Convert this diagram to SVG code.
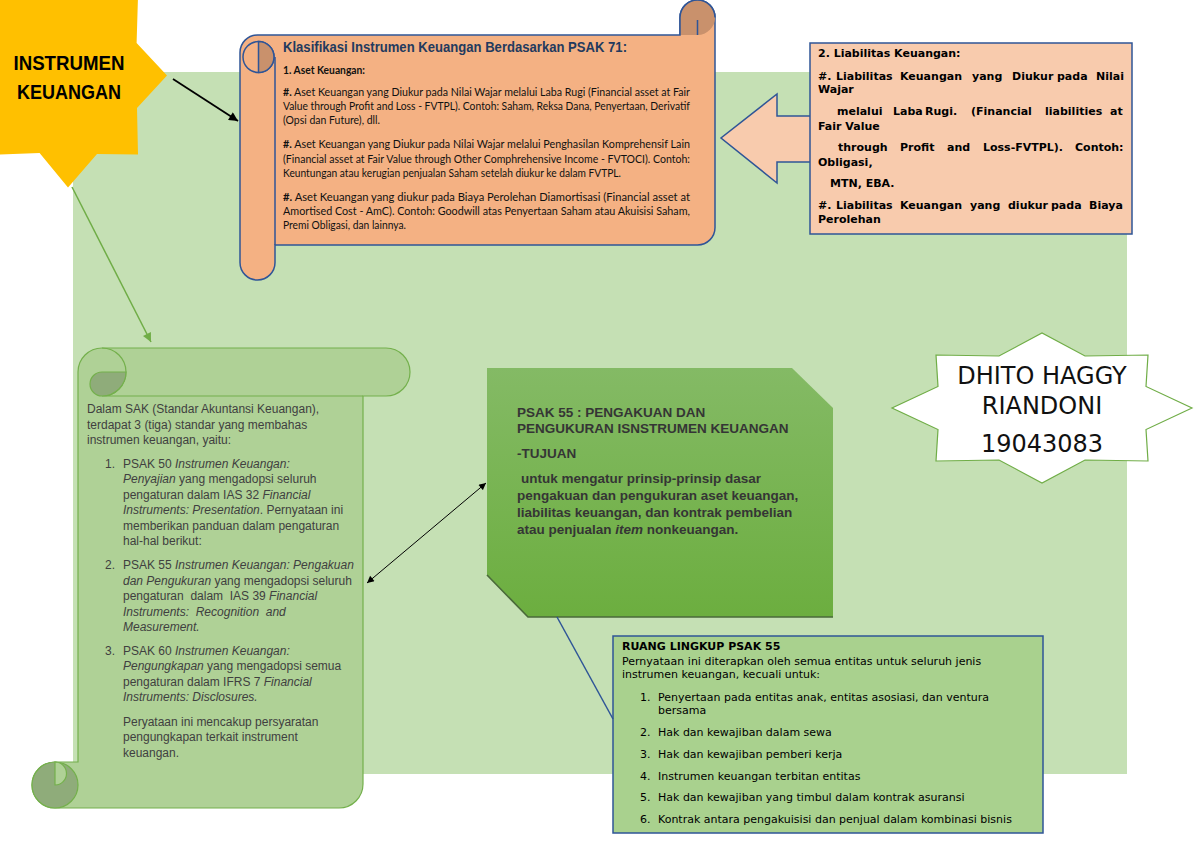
<svg xmlns="http://www.w3.org/2000/svg" width="1200" height="848" viewBox="0 0 1200 848">
<defs>
<style>
.cal{font-family:Lato,"Liberation Sans",sans-serif;font-size:11px;fill:#111;}
.b{font-weight:bold;}
.i{font-style:italic;}
.dvb{font-family:"DejaVu Sans",Verdana,sans-serif;font-size:11px;font-weight:bold;fill:#000;}
.dv{font-family:"DejaVu Sans",Verdana,sans-serif;font-size:11px;fill:#000;}
.ar{font-family:"Liberation Sans",Arial,sans-serif;font-size:12px;fill:#404040;}
.arb{font-family:"Liberation Sans",Arial,sans-serif;font-size:13.5px;font-weight:bold;fill:#353535;}
.blue{stroke:#2f5597;stroke-width:1.5;}
.gs{stroke:#74b04c;stroke-width:1.2;}
</style>
<linearGradient id="gGreen" x1="0" y1="0" x2="0" y2="1">
<stop offset="0" stop-color="#84ba65"/><stop offset="1" stop-color="#6cae3f"/>
</linearGradient>
<marker id="ahBlack" viewBox="0 0 10 10" refX="10" refY="5" markerWidth="11" markerHeight="9" markerUnits="userSpaceOnUse" orient="auto"><path d="M0,0 L10,5 L0,10 z" fill="#000"/></marker>
<marker id="ahGreen" viewBox="0 0 10 10" refX="10" refY="5" markerWidth="11" markerHeight="9" markerUnits="userSpaceOnUse" orient="auto"><path d="M0,0 L10,5 L0,10 z" fill="#70ad47"/></marker>
<marker id="ahSmall" viewBox="0 0 10 10" refX="10" refY="5" markerWidth="9" markerHeight="7" markerUnits="userSpaceOnUse" orient="auto-start-reverse"><path d="M0,0 L10,5 L0,10 z" fill="#000"/></marker>
</defs>
<rect width="1200" height="848" fill="#fff"/>
<rect x="73" y="72" width="1054" height="702" fill="#c5e0b4"/>

<g id="judul">
<polygon fill="#ffc000" points="167,75.5 137,108 138,154.5 97,154 68,187.5 39.6,153 -2,154.5 -0.6,108 -31,75.5 -0.6,43 -2,-3.5 39.6,-2 68,-36.5 96.4,-2 138,-3.5 136.6,43"/>
<text x="69" y="70" text-anchor="middle" textLength="111" lengthAdjust="spacingAndGlyphs" font-family="Liberation Sans, Arial, sans-serif" font-size="21" font-weight="bold" fill="#000">INSTRUMEN</text>
<text x="69" y="99" text-anchor="middle" textLength="104" lengthAdjust="spacingAndGlyphs" font-family="Liberation Sans, Arial, sans-serif" font-size="21" font-weight="bold" fill="#000">KEUANGAN</text>
</g>

<g id="klasifikasi">
<path class="blue" fill="#f4b183" d="M257.5 35 H680 V17.5 A17.5 17.5 0 0 1 715 17.5 V227.5 A17.5 17.5 0 0 1 697.5 245 H275 V262.5 A17.5 17.5 0 0 1 240 262.5 V52.5 A17.5 17.5 0 0 1 257.5 35 Z"/>
<path fill="#c9916c" d="M680 35 V17.5 A17.5 17.5 0 0 1 715 17.5 A17.5 17.5 0 0 1 697.5 35 Z"/>
<path class="blue" fill="none" d="M680 35 V17.5 A17.5 17.5 0 0 1 715 17.5 M697.5 20 V35"/>
<circle class="blue" cx="258.5" cy="57" r="15.5" fill="#f4b183"/>
<path class="blue" fill="#c9916c" d="M258.5 41.5 A15.5 15.5 0 0 1 258.5 72.5 Z"/>
<path class="blue" fill="none" d="M275 57 V245"/>
<text x="283" y="52" font-family="Liberation Sans, Arial, sans-serif" font-size="14" font-weight="bold" fill="#233a5e" textLength="344" lengthAdjust="spacingAndGlyphs">Klasifikasi Instrumen Keuangan Berdasarkan PSAK 71:</text>
<text class="cal b" x="283" y="74" textLength="82" lengthAdjust="spacingAndGlyphs">1. Aset Keuangan:</text>
<text class="cal" x="283" y="96" textLength="407" lengthAdjust="spacingAndGlyphs"><tspan class="b">#.</tspan> Aset Keuangan yang Diukur pada Nilai Wajar melalui Laba Rugi (Financial asset at Fair</text>
<text class="cal" x="283" y="110" textLength="407" lengthAdjust="spacingAndGlyphs">Value through Profit and Loss - FVTPL). Contoh: Saham, Reksa Dana, Penyertaan, Derivatif</text>
<text class="cal" x="283" y="124" textLength="97" lengthAdjust="spacingAndGlyphs">(Opsi dan Future), dll.</text>
<text class="cal" x="283" y="148" textLength="407" lengthAdjust="spacingAndGlyphs"><tspan class="b">#.</tspan> Aset Keuangan yang Diukur pada Nilai Wajar melalui Penghasilan Komprehensif Lain</text>
<text class="cal" x="283" y="162.5" textLength="407" lengthAdjust="spacingAndGlyphs">(Financial asset at Fair Value through Other Comphrehensive Income - FVTOCI). Contoh:</text>
<text class="cal" x="283" y="177" textLength="338" lengthAdjust="spacingAndGlyphs">Keuntungan atau kerugian penjualan Saham setelah diukur ke dalam FVTPL.</text>
<text class="cal" x="283" y="201" textLength="407" lengthAdjust="spacingAndGlyphs"><tspan class="b">#.</tspan> Aset Keuangan yang diukur pada Biaya Perolehan Diamortisasi (Financial asset at</text>
<text class="cal" x="283" y="215" textLength="407" lengthAdjust="spacingAndGlyphs">Amortised Cost - AmC). Contoh: Goodwill atas Penyertaan Saham atau Akuisisi Saham,</text>
<text class="cal" x="283" y="229" textLength="123" lengthAdjust="spacingAndGlyphs">Premi Obligasi, dan lainnya.</text>
</g>

<g id="liabilitas">
<path class="blue" fill="#f8cbad" d="M812 116 H777 V94 L721 138 L777 183 V162 H812"/>
<rect class="blue" x="810" y="43" width="322" height="191" fill="#f8cbad"/>
<text class="dvb">
<tspan x="818" y="57">2. Liabilitas Keuangan:</tspan>
<tspan x="818" y="80">#.</tspan><tspan x="836" y="80">Liabilitas</tspan><tspan x="900" y="80">Keuangan</tspan><tspan x="972" y="80">yang</tspan><tspan x="1012" y="80">Diukur</tspan><tspan x="1057" y="80">pada</tspan><tspan x="1096" y="80">Nilai</tspan>
<tspan x="818" y="93">Wajar</tspan>
<tspan x="837" y="115">melalui</tspan><tspan x="893" y="115">Laba</tspan><tspan x="925" y="115">Rugi.</tspan><tspan x="971" y="115">(Financial</tspan><tspan x="1045" y="115">liabilities</tspan><tspan x="1110" y="115">at</tspan>
<tspan x="818" y="130">Fair Value</tspan>
<tspan x="838" y="151">through</tspan><tspan x="900" y="151">Profit</tspan><tspan x="947" y="151">and</tspan><tspan x="983" y="151">Loss-FVTPL).</tspan><tspan x="1075" y="151">Contoh:</tspan>
<tspan x="818" y="166">Obligasi,</tspan>
<tspan x="830" y="187">MTN, EBA.</tspan>
<tspan x="818" y="209">#.</tspan><tspan x="836" y="209">Liabilitas</tspan><tspan x="900" y="209">Keuangan</tspan><tspan x="970" y="209">yang</tspan><tspan x="1008" y="209">diukur</tspan><tspan x="1051" y="209">pada</tspan><tspan x="1089" y="209">Biaya</tspan>
<tspan x="818" y="223">Perolehan</tspan>
</text>
</g>

<g id="sak">
<path class="gs" fill="#afd196" d="M78 372 A24 24 0 0 1 102 348 H386 A24 24 0 0 1 386 396 H363 V784 A24 24 0 0 1 339 808 H55 A23 23 0 0 1 55 762 H78 Z"/>
<path class="gs" fill="none" d="M102 396 H363 M102 348 A24 24 0 0 1 102 396"/>
<path class="gs" fill="#8fac7a" d="M102 372 H126 A24 24 0 0 1 102 396 A12 12 0 0 1 102 372 Z"/>
<circle class="gs" cx="55" cy="785" r="23" fill="#8fac7a"/>
<path class="gs" fill="#afd196" d="M55 762 A11.5 11.5 0 0 1 55 785 Z"/>
<text class="ar">
<tspan x="87" y="413">Dalam SAK (Standar Akuntansi Keuangan),</tspan>
<tspan x="87" y="428.5">terdapat 3 (tiga) standar yang membahas</tspan>
<tspan x="87" y="444">instrumen keuangan, yaitu:</tspan>
</text>
<text class="ar" xml:space="preserve">
<tspan x="105" y="467.5">1.</tspan><tspan x="123" y="467.5">PSAK 50 <tspan class="i">Instrumen Keuangan:</tspan></tspan>
<tspan x="123" y="483"><tspan class="i">Penyajian</tspan> yang mengadopsi seluruh</tspan>
<tspan x="123" y="498.5">pengaturan dalam IAS 32 <tspan class="i">Financial</tspan></tspan>
<tspan x="123" y="514"><tspan class="i">Instruments: Presentation</tspan>. Pernyataan ini</tspan>
<tspan x="123" y="529.5">memberikan panduan dalam pengaturan</tspan>
<tspan x="123" y="545">hal-hal berikut:</tspan>
<tspan x="105" y="569">2.</tspan><tspan x="123" y="569">PSAK 55 <tspan class="i">Instrumen Keuangan: Pengakuan</tspan></tspan>
<tspan x="123" y="584.5"><tspan class="i">dan Pengukuran</tspan> yang mengadopsi seluruh</tspan>
<tspan x="123" y="600">pengaturan  dalam  IAS 39 <tspan class="i">Financial</tspan></tspan>
<tspan x="123" y="615.5" class="i">Instruments:  Recognition  and</tspan>
<tspan x="123" y="631" class="i">Measurement.</tspan>
<tspan x="105" y="654.5">3.</tspan><tspan x="123" y="654.5">PSAK 60 <tspan class="i">Instrumen Keuangan:</tspan></tspan>
<tspan x="123" y="670"><tspan class="i">Pengungkapan</tspan> yang mengadopsi semua</tspan>
<tspan x="123" y="685.5">pengaturan dalam IFRS 7 <tspan class="i">Financial</tspan></tspan>
<tspan x="123" y="701" class="i">Instruments: Disclosures.</tspan>
<tspan x="123" y="725.5">Peryataan ini mencakup persyaratan</tspan>
<tspan x="123" y="741">pengungkapan terkait instrument</tspan>
<tspan x="123" y="756.5">keuangan.</tspan>
</text>
</g>

<g id="psak55">
<path fill="url(#gGreen)" d="M487 368 H792 L833 408 V617 H528 L487 575 Z"/>
<path fill="none" stroke="#4a6a3a" stroke-width="1.6" d="M487 575 L528 617 H833"/>
<text class="arb">
<tspan x="517" y="417">PSAK 55 : PENGAKUAN DAN</tspan>
<tspan x="517" y="433">PENGUKURAN ISNSTRUMEN KEUANGAN</tspan>
<tspan x="517" y="457.5">-TUJUAN</tspan>
<tspan x="521" y="483">untuk mengatur prinsip-prinsip dasar</tspan>
<tspan x="517" y="500">pengakuan dan pengukuran aset keuangan,</tspan>
<tspan x="517" y="517">liabilitas keuangan, dan kontrak pembelian</tspan>
<tspan x="517" y="534">atau penjualan <tspan class="i">item</tspan> nonkeuangan.</tspan>
</text>
</g>

<g id="ruang-lingkup">
<rect class="blue" x="613" y="636" width="430" height="197" fill="#a9d18e"/>
<text class="dvb" x="622" y="650">RUANG LINGKUP PSAK 55</text>
<text class="dv">
<tspan x="622" y="665">Pernyataan ini diterapkan oleh semua entitas untuk seluruh jenis</tspan>
<tspan x="622" y="678">instrumen keuangan, kecuali untuk:</tspan>
<tspan x="640" y="701">1.</tspan><tspan x="658" y="701">Penyertaan pada entitas anak, entitas asosiasi, dan ventura</tspan>
<tspan x="658" y="714">bersama</tspan>
<tspan x="640" y="736">2.</tspan><tspan x="658" y="736">Hak dan kewajiban dalam sewa</tspan>
<tspan x="640" y="758">3.</tspan><tspan x="658" y="758">Hak dan kewajiban pemberi kerja</tspan>
<tspan x="640" y="780">4.</tspan><tspan x="658" y="780">Instrumen keuangan terbitan entitas</tspan>
<tspan x="640" y="801">5.</tspan><tspan x="658" y="801">Hak dan kewajiban yang timbul dalam kontrak asuransi</tspan>
<tspan x="640" y="823">6.</tspan><tspan x="658" y="823">Kontrak antara pengakuisisi dan penjual dalam kombinasi bisnis</tspan>
</text>
</g>

<g id="nama">
<polygon fill="#fff" stroke="#70ad47" stroke-width="1.2" points="1192,408 1146,429.5 1148,461 1085,460 1042,483 999,460 936,461 938,429.5 892,408 938,386.5 936,355 999,356 1042,333 1085,356 1148,355 1146,386.5"/>
<text x="1042" y="384" text-anchor="middle" font-family="DejaVu Sans, Verdana, sans-serif" font-size="24" fill="#111">DHITO HAGGY</text>
<text x="1042" y="414" text-anchor="middle" font-family="DejaVu Sans, Verdana, sans-serif" font-size="24" fill="#111">RIANDONI</text>
<text x="1042" y="452" text-anchor="middle" font-family="DejaVu Sans, Verdana, sans-serif" font-size="24" fill="#111">19043083</text>
</g>

<g id="connectors" fill="none">
<line x1="173" y1="79" x2="238" y2="121" stroke="#000" stroke-width="1.8" marker-end="url(#ahBlack)"/>
<line x1="72" y1="187" x2="151" y2="342" stroke="#70ad47" stroke-width="1.5" marker-end="url(#ahGreen)"/>
<line x1="367" y1="583" x2="486" y2="483" stroke="#000" stroke-width="1" marker-start="url(#ahSmall)" marker-end="url(#ahSmall)"/>
<line x1="557" y1="617" x2="613" y2="719" stroke="#2f5597" stroke-width="1.5"/>
</g>
</svg>
